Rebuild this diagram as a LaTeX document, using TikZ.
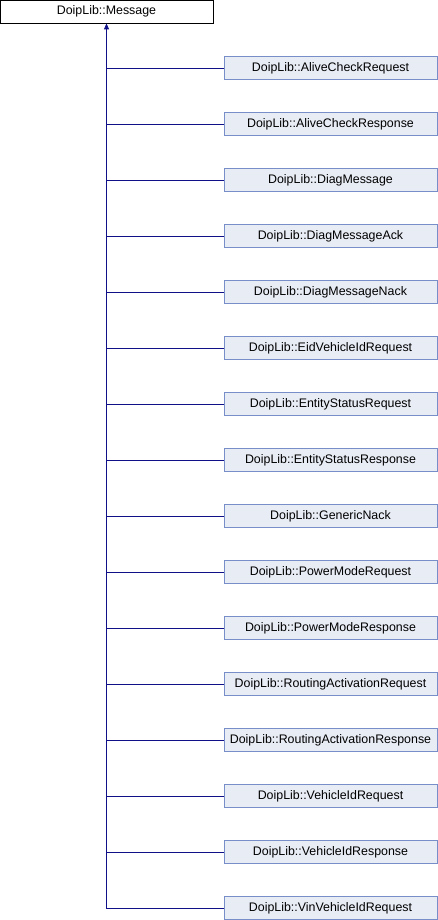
\documentclass[tikz,border=0pt]{standalone}
\usepackage{fontspec}
\setmainfont{Liberation Sans}
\usetikzlibrary{positioning,arrows.meta}
\definecolor{dxline}{RGB}{16,16,136}
\definecolor{dxfill}{RGB}{232,236,245}
\definecolor{dxedge}{RGB}{120,142,200}

\begin{document}
\begin{tikzpicture}[x=1pt,y=-1pt,
        cls/.style={draw=dxedge,fill=dxfill,line width=0.8pt,minimum width=213pt,
                    minimum height=23pt,inner sep=0pt,font=\fontsize{12.4}{14}\selectfont},
        basecls/.style={cls,draw=black,fill=white},
        inherit/.style={dxline,line width=0.8pt}]
        \useasboundingbox (0,0) rectangle (438,920);
        \node[basecls] (base) at (106.5,11.5) {DoipLib::Message};
        \foreach \name [count=\i] in {AliveCheckRequest,AliveCheckResponse,DiagMessage,
              DiagMessageAck,DiagMessageNack,EidVehicleIdRequest,EntityStatusRequest,
              EntityStatusResponse,GenericNack,PowerModeRequest,PowerModeResponse,
              RoutingActivationRequest,RoutingActivationResponse,VehicleIdRequest,
              VehicleIdResponse,VinVehicleIdRequest}
          \node[cls] (c\i) at (330.5,{12+56*\i}) {DoipLib::\name};
        \draw[inherit,-{Triangle[length=6pt,width=5pt]}] (c16.west) -| (base.south);
        \foreach \i in {1,...,15}
          \draw[inherit] (base.south |- c\i.west) -- (c\i.west);
      \end{tikzpicture}
\end{document}
